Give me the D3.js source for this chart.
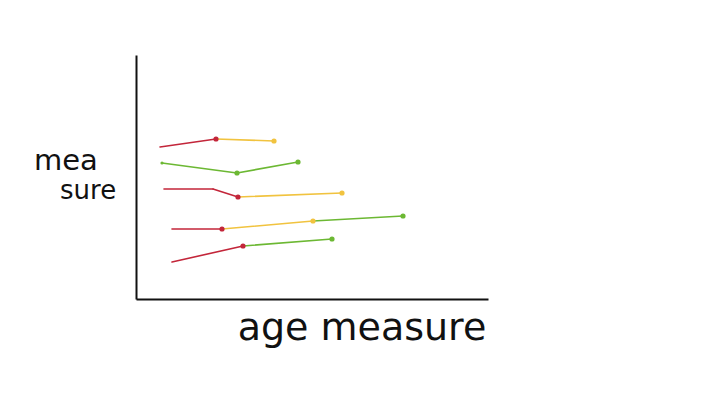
<!DOCTYPE html>
<html>
<head>
<meta charset="utf-8">
<script src="https://cdn.jsdelivr.net/npm/d3@7"></script>
<style>
  body { margin: 0; background: #fff; }
  svg { display: block; }
</style>
</head>
<body>
<svg id="chart" width="720" height="405"></svg>
<script>
// one row per subject, ages and measures per vertex, state per segment
const subjects = ["s1", "s2", "s3", "s4", "s5"];
const ages = [
  [2.4, 8.0, 13.8],
  [2.6, 10.1, 16.2],
  [2.8, 7.7, 10.2, 20.6],
  [3.6, 8.6, 17.7, 26.7],
  [3.6, 10.7, 19.6]
];
const measures = [
  [15.2, 16.0, 15.8],
  [13.6, 12.6, 13.7],
  [11.0, 11.0, 10.2, 10.6],
  [7.0, 7.0, 7.8, 8.3],
  [3.7, 5.3, 6.0]
];
const states = [
  ["red", "yellow"],
  ["green", "green"],
  ["red", "red", "yellow"],
  ["red", "yellow", "green"],
  ["red", "green"]
];
const stateNames = ["red", "yellow", "green"];
const xLabel = "age measure";
const yLabel = ["mea", "sure"];

const svg = d3.select("#chart");
const margin = { top: 55, right: 232, bottom: 106, left: 136 };
const width = 720, height = 405;

const x = d3.scaleLinear()
  .domain([0, 35.2])
  .range([margin.left, width - margin.right]);

const y = d3.scaleLinear()
  .domain([0, 24.4])
  .range([height - margin.bottom, margin.top]);

const color = d3.scaleOrdinal()
  .domain(stateNames)
  .range(["#c3263a", "#f1c33f", "#6cb833"]);

const line = d3.line()
  .x(d => x(d.age))
  .y(d => y(d.m));

// axes, no ticks, just the frame
svg.append("g")
  .attr("transform", `translate(0, ${y(0)})`)
  .call(d3.axisBottom(x).ticks(0).tickSizeOuter(0))
  .call(g => g.select(".domain").attr("stroke", "#111").attr("stroke-width", 2));

svg.append("g")
  .attr("transform", `translate(${x(0)}, 0)`)
  .call(d3.axisLeft(y).ticks(0).tickSizeOuter(0))
  .call(g => g.select(".domain").attr("stroke", "#111").attr("stroke-width", 2));

subjects.forEach((s, i) => {
  const pts = ages[i].map((a, j) => ({ age: a, m: measures[i][j] }));
  const g = svg.append("g").attr("class", "subject " + s);

  states[i].forEach((st, j) => {
    g.append("path")
      .datum([pts[j], pts[j + 1]])
      .attr("fill", "none")
      .attr("stroke", color(st))
      .attr("stroke-width", 1.6)
      .attr("stroke-linecap", "round")
      .attr("d", line);
  });

  // dot where the state changes and at the end
  pts.forEach((p, j) => {
    if (j === 0 && states[i][0] !== "green") return;
    const st = j === 0 ? states[i][0] : states[i][j - 1];
    const next = states[i][j];
    if (j > 0 && next === st && st !== "green") return;
    g.append("circle")
      .attr("cx", x(p.age))
      .attr("cy", y(p.m))
      .attr("r", j === 0 ? 1.6 : 2.6)
      .attr("fill", color(st));
  });
});

svg.append("text")
  .attr("x", 362)
  .attr("y", 340)
  .attr("text-anchor", "middle")
  .attr("font-family", "DejaVu Sans")
  .attr("font-size", 38)
  .attr("fill", "#111")
  .text(xLabel);

svg.append("g")
  .attr("font-family", "DejaVu Sans")
  .attr("fill", "#111")
  .selectAll("text")
  .data(yLabel)
  .join("text")
  .attr("x", (d, i) => i === 0 ? 34 : 60)
  .attr("y", (d, i) => i === 0 ? 170 : 199)
  .attr("font-size", (d, i) => i === 0 ? 29 : 26)
  .text(d => d);
</script>
</body>
</html>
